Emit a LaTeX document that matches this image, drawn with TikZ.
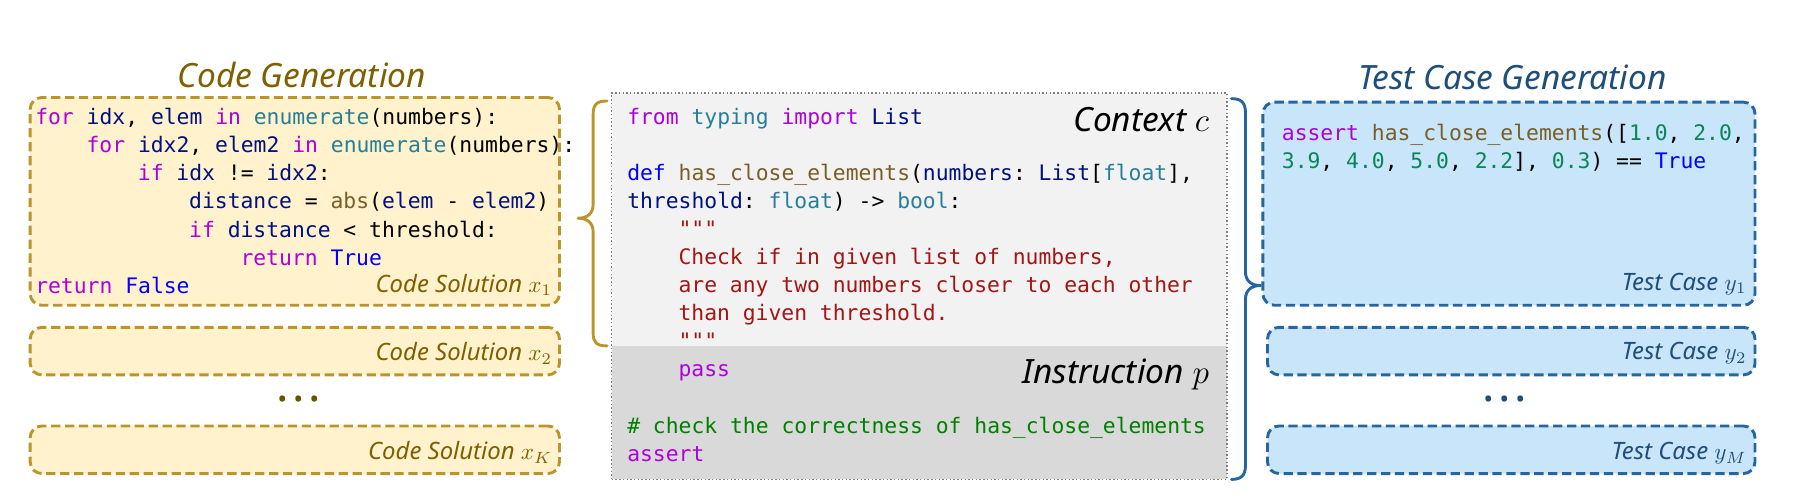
\documentclass[tikz,border=0pt]{standalone}
\usepackage{fontspec}
\setmainfont{Noto Sans}
\setmonofont{DejaVu Sans Mono}
\usetikzlibrary{fit}
\definecolor{ckw}{HTML}{AF00DB}
\definecolor{cva}{HTML}{001080}
\definecolor{cfn}{HTML}{795E26}
\definecolor{cty}{HTML}{267F99}
\definecolor{cbl}{HTML}{0000FF}
\definecolor{cst}{HTML}{A31515}
\definecolor{ccm}{HTML}{008000}
\definecolor{cnm}{HTML}{098658}
\definecolor{goldfill}{HTML}{FFF2CC}
\definecolor{goldline}{HTML}{BA952C}
\definecolor{goldtext}{HTML}{7F6000}
\definecolor{bluefill}{HTML}{C9E5FA}
\definecolor{blueline}{HTML}{2566A0}
\definecolor{bluetext}{HTML}{1F4E79}
\definecolor{ctxfill}{HTML}{F2F2F2}
\definecolor{insfill}{HTML}{D9D9D9}
\definecolor{midline}{HTML}{7F7F7F}
\newcommand\ckw[1]{\textcolor{ckw}{#1}}
\newcommand\cva[1]{\textcolor{cva}{#1}}
\newcommand\cfn[1]{\textcolor{cfn}{#1}}
\newcommand\cty[1]{\textcolor{cty}{#1}}
\newcommand\cbl[1]{\textcolor{cbl}{#1}}
\newcommand\cst[1]{\textcolor{cst}{#1}}
\newcommand\ccm[1]{\textcolor{ccm}{#1}}
\newcommand\cnm[1]{\textcolor{cnm}{#1}}
\tikzset{
  code/.style={font=\ttfamily\fontsize{9.2}{12}\selectfont, anchor=base west, inner sep=0pt, text=black},
  gbox/.style={draw=goldline, fill=goldfill, line width=1.25pt, dash pattern=on 4pt off 2pt, rounded corners=5pt, inner sep=0pt},
  bbox/.style={draw=blueline, fill=bluefill, line width=1.25pt, dash pattern=on 4pt off 2pt, rounded corners=5pt, inner sep=0pt},
  glab/.style={font=\itshape\fontsize{10.3}{12}\selectfont, text=goldtext, anchor=base east, inner sep=0pt},
  blab/.style={font=\itshape\fontsize{10.3}{12}\selectfont, text=bluetext, anchor=base east, inner sep=0pt},
  ttl/.style={font=\itshape\fontsize{14.4}{16}\selectfont, anchor=base, inner sep=0pt},
  midlab/.style={font=\itshape\fontsize{14.4}{16}\selectfont, anchor=base east, inner sep=0pt, text=black},
  dotsn/.style={font=\bfseries\fontsize{20}{20}\selectfont, inner sep=0pt, anchor=base},
  brace/.style={line width=1.25pt, line cap=round, line join=round}
}
\begin{document}
\begin{tikzpicture}[x=0.5pt,y=-0.5pt]
\useasboundingbox (0,0) rectangle (1568,432.5);
% titles
\node[ttl, text=goldtext] (tcg) at (260,75) {Code Generation};
\node[ttl, text=bluetext] (ttg) at (1303,77) {Test Case Generation};
% code solution boxes
\node[gbox, fit={(26,84)(482,263)}] (cs1) {};
\node[gbox, fit={(26,282)(482,323)}] (cs2) {};
\node[gbox, fit={(26,367)(482,408)}] (csk) {};
\node[dotsn, text=goldtext!85!black] (gdots) at (257,346) {.\hspace{1.5pt}.\hspace{1.5pt}.};
\node[code] (a1) at (30,107) {\ckw{for} \cva{idx}, \cva{elem} \ckw{in} \cty{enumerate}(numbers):};
\node[code] (a2) at (74.2,131.3) {\ckw{for} \cva{idx2}, \cva{elem2} \ckw{in} \cty{enumerate}(numbers):};
\node[code] (a3) at (118.4,155.6) {\ckw{if} \cva{idx} != \cva{idx2}:};
\node[code] (a4) at (162.6,179.9) {\cva{distance} = \cfn{abs}(\cva{elem} - \cva{elem2})};
\node[code] (a5) at (162.6,204.2) {\ckw{if} \cva{distance} < threshold:};
\node[code] (a6) at (206.8,228.5) {\ckw{return} \cbl{True}};
\node[code] (a7) at (30,252.8) {\ckw{return} \cbl{False}};
\node[glab] (gl1) at (476,252) {Code Solution $x_1$};
\node[glab] (gl2) at (476,311) {Code Solution $x_2$};
\node[glab] (glk) at (476,396) {Code Solution $x_K$};
% middle box
\node[fill=ctxfill, inner sep=0pt, fit={(527,80)(1057,298)}] (ctx) {};
\node[fill=insfill, inner sep=0pt, fit={(527,298)(1057,413)}] (ins) {};
\node[draw=midline, line width=0.6pt, dash pattern=on 0.6pt off 1pt, inner sep=0pt, fit={(527,80)(1057,413)}] (mid) {};
\node[code] (m0) at (540,107) {\ckw{from} \cty{typing} \ckw{import} \cva{List}};
\node[code] (m2) at (540,155.4) {\cbl{def} \cfn{has\_close\_elements}(\cva{numbers}: \cva{List}[\cty{float}],};
\node[code] (m3) at (540,179.6) {\cva{threshold}: \cty{float}) -> \cty{bool}:};
\node[code] (m4) at (584.2,203.8) {\cst{"""}};
\node[code] (m5) at (584.2,228) {\cst{Check if in given list of numbers,}};
\node[code] (m6) at (584.2,252.2) {\cst{are any two numbers closer to each other}};
\node[code] (m7) at (584.2,276.4) {\cst{than given threshold.}};
\node[code] (m8) at (584.2,300.6) {\cst{"""}};
\node[code] (m9) at (584.2,324.8) {\ckw{pass}};
\node[code] (m11) at (540,373.2) {\ccm{\# check the correctness of has\_close\_elements}};
\node[code] (m12) at (540,397.4) {\ckw{assert}};
\node[midlab] (lc) at (1042,113) {Context $c$};
\node[midlab] (lp) at (1042,330) {Instruction $p$};
% test case boxes
\node[bbox, fit={(1088,88)(1512,263)}] (tc1) {};
\node[bbox, fit={(1092,282)(1512,323)}] (tc2) {};
\node[bbox, fit={(1092,367)(1512,408)}] (tcm) {};
\node[dotsn, text=bluetext] (bdots) at (1296,346) {.\hspace{1.5pt}.\hspace{1.5pt}.};
\node[code] (t1) at (1104,121) {\ckw{assert} \cfn{has\_close\_elements}([\cnm{1.0}, \cnm{2.0},};
\node[code] (t2) at (1104,145) {\cnm{3.9}, \cnm{4.0}, \cnm{5.0}, \cnm{2.2}], \cnm{0.3}) == \cbl{True}};
\node[blab] (bl1) at (1505,250) {Test Case $y_1$};
\node[blab] (bl2) at (1505,310) {Test Case $y_2$};
\node[blab] (blm) at (1505,396) {Test Case $y_M$};
% braces
\coordinate (gb0) at (523,87);
\coordinate (gbt) at (498,188);
\coordinate (gb1) at (523,298);
\draw[brace, draw=goldline] (gb0) .. controls (514,87) and (511,90) .. (511,99) -- (511,176) .. controls (511,184) and (506,188) .. (gbt) .. controls (506,188) and (511,192) .. (511,200) -- (511,287) .. controls (511,295) and (514,298) .. (gb1);
\coordinate (bb0) at (1061,85);
\coordinate (bbt) at (1086,246);
\coordinate (bb1) at (1061,413);
\draw[brace, draw=blueline] (bb0) .. controls (1069,85) and (1073,88) .. (1073,97) -- (1073,234) .. controls (1073,242) and (1078,246) .. (bbt) .. controls (1078,246) and (1073,250) .. (1073,258) -- (1073,401) .. controls (1073,410) and (1069,413) .. (bb1);
\end{tikzpicture}
\end{document}
